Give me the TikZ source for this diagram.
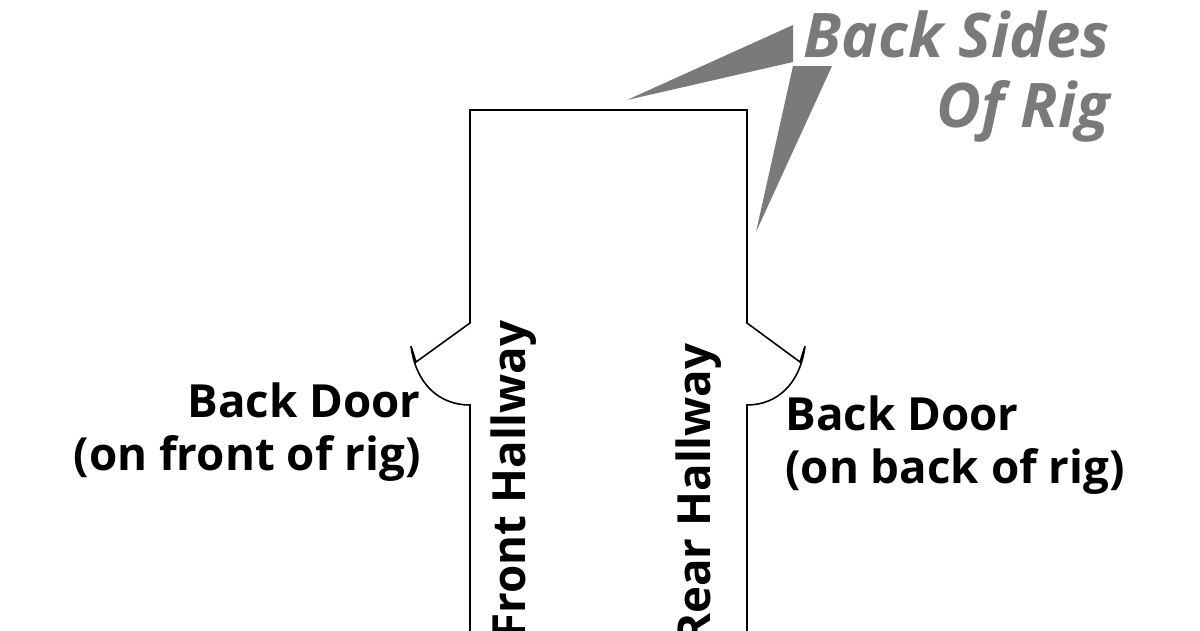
\documentclass[tikz,border=0pt]{standalone}
\usepackage{fontspec}
\setmainfont{Open Sans}
\begin{document}
\begin{tikzpicture}[x=0.02cm,y=-0.02cm,
  wall/.style={line width=0.9pt,black},
  lbl/.style={font=\fontsize{26}{30}\selectfont\bfseries,align=left,inner sep=0pt},
  wedge/.style={fill=black!52,draw=none}]
\useasboundingbox (0,0) rectangle (1200,630);
\clip (0,0) rectangle (1200,630);
% outline
\draw[wall] (470,640) -- (470,405) .. controls (440,405) and (416,385) .. (411,346) -- (416,362) -- (470,323) -- (470,110) -- (747,110) -- (747,323) -- (800,362) -- (805,346) .. controls (800,385) and (776,405) .. (747,405) -- (747,640);
% wedges
\fill[wedge] (627,100) -- (793,25) -- (793,62) -- cycle;
\fill[wedge] (756,232) -- (793,66) -- (832,66) -- cycle;
\node[lbl,anchor=east,align=right] (bdl) at (421,432) {Back Door\\(on front of rig)};
\node[lbl,anchor=west] (bdr) at (785,445) {Back Door\\(on back of rig)};
\node[lbl,rotate=90,anchor=south east] (fh) at (537,320) {Front Hallway};
\node[lbl,rotate=90,anchor=south east] (rh) at (722,343) {Rear Hallway};
\node[font=\fontsize{35}{40}\selectfont\bfseries\itshape,text=black!52,align=right,anchor=north east,inner sep=0pt] (bs) at (1110,10) {Back Sides\\Of Rig};
\end{tikzpicture}
\end{document}
